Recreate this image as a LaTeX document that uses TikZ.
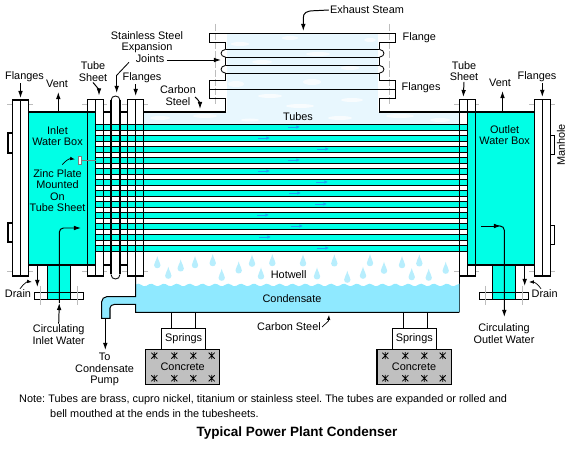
\documentclass[tikz,border=0pt]{standalone}
\usepackage{xcolor}
\usepackage{fontspec}
\setmainfont{Liberation Sans}
\frenchspacing
\usetikzlibrary{arrows.meta}
\definecolor{Water}{HTML}{00FFE6}
\definecolor{Condensate}{HTML}{8FE9FF}
\definecolor{Droplet}{HTML}{B8EEFD}
\definecolor{Steam}{HTML}{E8F7FE}
\definecolor{FlowBlue}{HTML}{1EA5F0}
\definecolor{Center}{HTML}{BDBDBD}
\definecolor{Slab}{HTML}{C0C0C0}

\begin{document}
\begin{tikzpicture}[
    x=0.025cm,
    y=-0.025cm,
    line width=0.72pt,
    font=\fontsize{7.75}{8.2}\selectfont,
    labeltext/.style={
        align=center,
        inner sep=0.5pt
    },
    arrow/.style={
        -{Latex[length=5pt,width=3.3pt]},
        line width=0.7pt
    },
    pointer/.style={
        -{Latex[length=3.5pt,width=2.6pt]},
        line width=0.5pt
    },
    flowmark/.style={
        -{Latex[length=2.5pt,width=2.5pt]},
        line width=0.7pt,
        draw=FlowBlue
    },
    centerline/.style={
        draw=Center,
        line width=0.7pt
    },
    dashline/.style={
        draw=Center,
        line width=0.7pt,
        dash pattern=on 5pt off 1.5pt
    },
    plate/.style={
        draw=black,
        fill=white
    },
    slab/.style={
        draw=black,
        fill=Slab
    }
]

% Background
\fill[white] (0,0) rectangle (572,452);

% Steam space
\fill[Steam] (227,34) rectangle (378,112);
\fill[Steam] (144,112) rectangle (459,124);
\foreach \x/\y/\a/\b in {240/44/9/2,262/62/10/2,290/38/8/2,318/54/12/2,350/68/9/2,
    370/40/6/2,236/84/8/3,270/96/12/2,312/82/9/3,352/100/11/2,300/106/14/2,
    160/118/10/2,205/116/12/2,250/120/9/1.5,340/118/12/2,400/116/14/2,440/120/10/2}
    \fill[white, opacity=0.7] (\x,\y) ellipse [x radius=\a, y radius=\b];

% Center lines behind the flanges
\foreach \x/\xx in {7/33,82/107,122/148,454/479,529/555}{
    \draw[centerline] (\x,104.3) -- (\xx,104.3);
    \draw[centerline] (\x,271.3) -- (\xx,271.3);
}

% Water boxes and pipes
\fill[Water] (28.7,112) rectangle (95.7,265);
\fill[Water] (467.3,112) rectangle (534.3,265);
\fill[Water] (47.3,265) rectangle (70.7,299.7);
\fill[Water] (492.3,265) rectangle (515.3,299.7);

% Flanges and tube sheets
\draw[plate] (12.5,100) rectangle (28.7,276);
\draw (20.5,100) -- (20.5,276);
\draw[plate] (8,133) rectangle (12.5,153);
\draw[plate] (8,223) rectangle (12.5,242);
\draw[plate] (127.5,99.5) rectangle (143.7,276);
\draw[plate] (87.5,99.5) rectangle (95.7,112);
\draw[plate] (95.7,99.5) rectangle (103.3,276);
\draw[plate] (87.5,265) rectangle (95.7,276);
\draw[plate] (459.3,99.5) rectangle (475.7,112);
\draw[plate] (459.3,112) rectangle (467.3,276);
\draw[plate] (467.3,265) rectangle (475.7,276);
\draw[plate] (534.3,99.5) rectangle (550.3,276);
\draw (542.3,99.5) -- (542.3,276);
\draw[plate] (550.3,135.3) rectangle (554.3,154.7);
\draw[plate] (550.3,225.3) rectangle (554.3,244.3);

% Tubes
\foreach \y in {124.3,135.3,...,245.3}{
    \fill[Water] (95.7,\y) rectangle (467.3,\y+6);
    \draw (95.7,\y) -- (467.3,\y);
    \draw (95.7,\y+6) -- (467.3,\y+6);
}
\foreach \x/\y in {300/127,270/138,300/160,270/171,301/193,269/215,303/226,271/237,
    329/149,328/182,327/204,329/248}
    \draw[flowmark] (\x-12,\y) -- (\x,\y);

% Verticals over the tubes
\draw (87.5,112) -- (87.5,265);
\draw (95.7,99.5) -- (95.7,276);
\draw (103.3,99.5) -- (103.3,276);
\draw (135.7,99.5) -- (135.7,276);
\draw (127.5,99.5) -- (127.5,276);
\draw (143.7,99.5) -- (143.7,276);
\draw (467.3,112) -- (467.3,265);
\draw (475.7,99.5) -- (475.7,276);
\draw (459.3,99.5) -- (459.3,312.3);
\draw (467.3,99.5) -- (467.3,112);
\draw (28.7,112) -- (87.5,112);
\draw (28.7,265) -- (87.5,265);
\draw (475.7,112) -- (534.3,112);
\draw (475.7,265) -- (534.3,265);

% Expansion joint at the tube sheet
\draw (103.3,112) -- (111,112) (120,112) -- (127.5,112);
\draw (103.3,265) -- (111,265) (120,265) -- (127.5,265);
\draw (111,100.5) -- (111,274.5) (120,100.5) -- (120,274.5);
\draw[line width=0.6pt] (111,100.5) .. controls (111,94.5) and (120,94.5) .. (120,100.5);
\draw[line width=0.6pt] (111,274.5) .. controls (111,280.5) and (120,280.5) .. (120,274.5);

% Exhaust neck
\draw[dashline] (215.3,24) -- (215.3,105);
\draw[dashline] (389,24) -- (389,105);
\draw (143.7,112) -- (225.7,112) -- (225.7,98.3) -- (209.3,98.3) -- (209.3,80.3) -- (225.7,80.3)
    -- (225.7,73.3);
\draw (225.7,65.3) -- (225.7,57.3);
\draw (225.7,49.3) -- (225.7,42.3) -- (209.3,42.3) -- (209.3,33.3) -- (395.7,33.3) -- (395.7,42.3)
    -- (379.3,42.3) -- (379.3,49.3);
\draw (379.3,57.3) -- (379.3,65.3);
\draw (379.3,73.3) -- (379.3,80.3) -- (395.7,80.3) -- (395.7,98.3) -- (379.3,98.3) -- (379.3,112)
    -- (459.3,112);
\foreach \y in {49.3,57.3,65.3,73.3}
    \draw (225.7,\y) -- (379.3,\y);
\draw (209.3,89.3) -- (395.7,89.3);
\foreach \y in {49.3,65.3}{
    \draw[line width=0.6pt] (225.7,\y) .. controls (219.5,\y+1) and (219.5,\y+7) .. (225.7,\y+8);
    \draw[line width=0.6pt] (379.3,\y) .. controls (385.5,\y+1) and (385.5,\y+7) .. (379.3,\y+8);
}

% Hotwell
\foreach \x/\y in {157.3/262.7,168.3/273.3,180.7/266,195/262.7,212.7/260.7,221.7/275.3,
    238.7/268,252/261.3,261/274,272.3/260.7,303/261,317/274,334.3/261,347.3/277.3,
    363/273.3,370/260.7,384/268.3,402/262.7,419.3/261,411.7/274.7,428.7/275.3,445.7/268.3}
    \fill[Droplet] (\x,\y-6.5) .. controls (\x+1,\y-2) and (\x+3.2,\y) .. (\x+3.2,\y+2.5)
        .. controls (\x+3.2,\y+6.5) and (\x-3.2,\y+6.5) .. (\x-3.2,\y+2.5)
        .. controls (\x-3.2,\y) and (\x-1,\y-2) .. (\x,\y-6.5);
\fill[Condensate] plot[domain=135.7:459.3,samples=120] (\x,{285+1.3*sin(\x*28)})
    -- (459.3,312.3) -- (135.7,312.3) -- (135.7,304.3) -- (115,304.3)
    .. controls (112,304.3) and (110,306) .. (110,308) -- (110,318.3) -- (101.7,318.3) -- (101.7,301.7)
    .. controls (101.7,299) and (104,296.7) .. (106.7,296.7) -- (135.7,296.7) -- cycle;
\draw (135.7,276) -- (135.7,296.7) -- (106.7,296.7) .. controls (104,296.7) and (101.7,299) .. (101.7,301.7)
    -- (101.7,318.3) -- (110,318.3) -- (110,308) .. controls (110,306) and (112,304.3) .. (115,304.3)
    -- (135.7,304.3) -- (135.7,312.3) -- (459.3,312.3);

% Drain flanges
\draw (34.3,292.3) rectangle (83.7,299.7);
\draw (479.3,292.3) rectangle (528.7,299.7);
\foreach \x in {47.3,70.7,492.3,515.3}
    \draw (\x,265) -- (\x,299.7);
\foreach \x in {40.3,77.3,485.3,522.3}
    \draw[centerline] (\x,286) -- (\x,305);

% Zinc plate
\draw[draw=gray] (81.7,160.7) -- (95.7,160.7);
\draw[draw=gray,fill=white] (78.3,156.3) rectangle (81.7,164.7);

% Springs and concrete
\draw (171.7,312.3) -- (171.7,328.3) (195.7,312.3) -- (195.7,328.3);
\draw (403.7,312.3) -- (403.7,328.3) (427.7,312.3) -- (427.7,328.3);
\node[draw, fill=white, labeltext, minimum width=1.1cm, minimum height=0.525cm] (springsleft) at (183.7,338.8) {Springs};
\node[draw, fill=white, labeltext, minimum width=1.1cm, minimum height=0.525cm] (springsright) at (414.3,338.8) {Springs};
\node[slab, labeltext, minimum width=1.85cm, minimum height=0.8875cm] (concreteleft) at (182.7,367) {Concrete};
\node[slab, labeltext, minimum width=1.85cm, minimum height=0.8875cm] (concreteright) at (414,367) {Concrete};
\foreach \x in {154.3,174.3,193.3,211.7,385.3,405.3,424.3,442.7}
    \foreach \y in {355.7,378.3}
        \draw[line width=0.55pt] (\x-3,\y-3) -- (\x+3,\y+3) (\x-3,\y+3) -- (\x+3,\y-3) (\x,\y-3.5) -- (\x,\y+3.5);

% Labels
\node[labeltext] (flangesleft) at (24.5,77) {Flanges};
\node[labeltext] (ventleft) at (57,84) {Vent};
\node[labeltext] (sheetleft) at (93,71.5) {Tube\\Sheet};
\node[labeltext] (flangesmid) at (142,78) {Flanges};
\node[labeltext] (joints) at (147,47) {Stainless Steel\\Expansion\\\ \ Joints};
\node[labeltext] (carbontop) at (178,95.5) {Carbon\\Steel};
\node[labeltext] (exhaust) at (367,10) {Exhaust Steam};
\node[labeltext, anchor=west] (flangetop) at (401.5,38) {Flange};
\node[labeltext, anchor=west] (flangesright) at (400.5,88) {Flanges};
\node[labeltext] (tubes) at (298,117) {Tubes};
\node[labeltext] (sheetright) at (464,71) {Tube\\Sheet};
\node[labeltext] (ventright) at (500,83) {Vent};
\node[labeltext] (flangesfar) at (537,77) {Flanges};
\node[labeltext, rotate=90] (manhole) at (561,145) {Manhole};
\node[labeltext] (inletbox) at (57.5,136) {Inlet\\Water Box};
\node[labeltext] (outletbox) at (504.7,135) {Outlet\\Water Box};
\node[labeltext] (zinc) at (57.5,190.5) {Zinc Plate\\Mounted\\On\\Tube Sheet};
\node[labeltext] (hotwell) at (288.7,275) {Hotwell};
\node[labeltext] (condensate) at (292,299) {Condensate};
\node[labeltext] (carbonbottom) at (289,327) {Carbon Steel};
\node[labeltext] (drainleft) at (18,294) {Drain};
\node[labeltext] (drainright) at (544.7,294) {Drain};
\node[labeltext] (inletwater) at (58.7,334.5) {Circulating\\Inlet Water};
\node[labeltext] (outletwater) at (504,333.5) {Circulating\\Outlet Water};
\node[labeltext] (pump) at (104.6,369.5) {To\\Condensate\\Pump};
\node[labeltext, anchor=west, align=left] (note) at (18,400) {Note: Tubes are brass, cupro nickel, titanium or stainless steel. The tubes are expanded or rolled and};
\node[labeltext, anchor=west, align=left] (notetwo) at (49,414) {bell mouthed at the ends in the tubesheets.};
\node[labeltext, font=\fontsize{9.6}{10}\selectfont\bfseries] (title) at (297,433.5) {Typical Power Plant Condenser};

% Arrow ends
\coordinate (flangesleftend) at (20.5,98);
\coordinate (ventleftfoot) at (58.3,112);
\coordinate (ventleftend) at (58.3,92);
\coordinate (sheetleftend) at (99,95.5);
\coordinate (flangesmidend) at (135.7,96);
\coordinate (jointstart) at (129,62.3);
\coordinate (jointbend) at (116.7,75.3);
\coordinate (jointlowend) at (116.7,93);
\coordinate (jointsidestart) at (166.7,60);
\coordinate (jointsideend) at (221,60);
\coordinate (carbontopstart) at (195,97);
\coordinate (carbontopend) at (200,109);
\coordinate (exhaustend) at (303.3,31);
\coordinate (sheetrightend) at (463.3,97);
\coordinate (ventrightfoot) at (502.5,112);
\coordinate (ventrightend) at (502.5,91);
\coordinate (flangesfarend) at (542.3,97);
\coordinate (zincstart) at (62.3,164.7);
\coordinate (zincend) at (75,159.3);
\coordinate (draina) at (37.3,265);
\coordinate (drainaend) at (37.3,287);
\coordinate (drainb) at (524.7,265);
\coordinate (drainbend) at (524.7,286);
\coordinate (inletmark) at (59.3,303);
\coordinate (inletcorner) at (59.3,228);
\coordinate (inletend) at (81,228);
\coordinate (outletstart) at (481,226);
\coordinate (outletmark) at (501,226);
\coordinate (outletcorner) at (504.3,226);
\coordinate (outletend) at (504.3,317);
\coordinate (pumpstart) at (105.3,318.3);
\coordinate (pumpend) at (105.3,350);
\coordinate (carbonbottomend) at (329,315);
\coordinate (drainpointera) at (32,282);
\coordinate (drainpointerb) at (529,282);

% Arrows
\draw[arrow] (flangesleft.south -| flangesleftend) -- (flangesleftend);
\draw[arrow] (ventleftfoot) -- (ventleftend);
\draw[arrow] (sheetleft.south) .. controls (97,87) and (99,90) .. (sheetleftend);
\draw[arrow] (flangesmid.south -| flangesmidend) -- (flangesmidend);
\draw[line width=0.6pt] (jointstart) -- (jointbend);
\draw[arrow] (jointbend) -- (jointlowend);
\draw[arrow] (jointsidestart) -- (jointsideend);
\draw[arrow] (carbontopstart) .. controls (199,100) and (200,104) .. (carbontopend);
\draw[arrow] (exhaust.west) -- (315,10.7) .. controls (306,10.7) and (303.3,13) .. (303.3,18) -- (exhaustend);
\draw[arrow] (sheetright.south) -- (sheetrightend);
\draw[arrow] (ventrightfoot) -- (ventrightend);
\draw[arrow] (flangesfar.south -| flangesfarend) -- (flangesfarend);
\draw[pointer] (zincstart) .. controls (66,160) and (70,158.5) .. (zincend);
\draw[arrow] (draina) -- (drainaend);
\draw[arrow] (drainb) -- (drainbend);
\draw[pointer] (drainleft.north -| 20,286) .. controls (24,283) and (28,281.5) .. (drainpointera);
\draw[pointer] (drainright.north -| 541,287) .. controls (538,284) and (534,282) .. (drainpointerb);
\draw[arrow] (inletwater.north) -- (inletmark);
\draw[arrow, rounded corners=3] (inletmark) -- (inletcorner) -- (inletend);
\draw[arrow] (outletstart) -- (outletmark);
\draw[arrow, rounded corners=3] (outletmark) -- (outletcorner) -- (outletend);
\draw[arrow] (pumpstart) -- (pumpend);
\draw[pointer] (carbonbottom.east) -- (328.5,321) -- (carbonbottomend);

\end{tikzpicture}
\end{document}
